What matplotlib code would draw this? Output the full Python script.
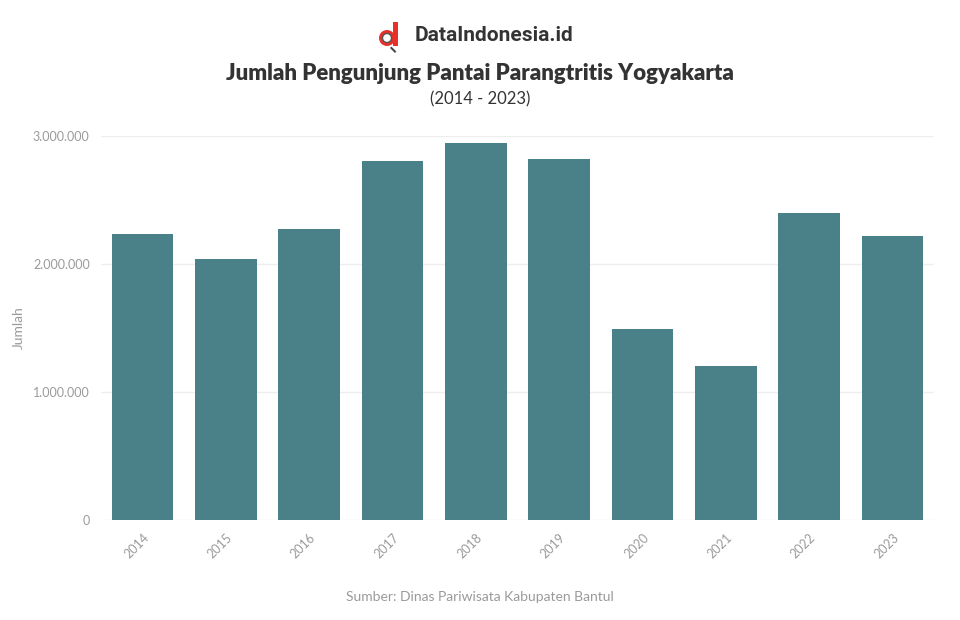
import matplotlib.pyplot as plt
from matplotlib.patches import Circle, Rectangle
from matplotlib.ticker import FuncFormatter

years = ["2014", "2015", "2016", "2017", "2018", "2019", "2020", "2021", "2022", "2023"]
visitors = [2230000, 2040000, 2270000, 2800000, 2940000, 2820000, 1490000, 1200000, 2400000, 2220000]
y_ticks = [0, 1000000, 2000000, 3000000]

BAR_COLOR = "#4a8189"
TEXT_DARK = "#333333"
TEXT_LIGHT = "#9a9a9a"
LOGO_RED = "#e8302a"

plt.rcParams["font.family"] = ["Lato", "DejaVu Sans"]

fig = plt.figure(figsize=(9.6, 6.2), dpi=100)
ax = fig.add_axes([0.105, 0.161, 0.868, 0.62])

x = range(len(years))
ax.bar(x, visitors, width=0.74, color=BAR_COLOR, zorder=3)
ax.set_xlim(-0.5, len(years) - 0.5)
ax.set_ylim(0, 3000000)
ax.set_yticks(y_ticks)
ax.yaxis.set_major_formatter(FuncFormatter(lambda v, _: f"{int(v):,}".replace(",", ".")))
ax.set_xticks(list(x), years, rotation=45, ha="right", rotation_mode="anchor")
ax.tick_params(axis="both", length=0, labelsize=9, colors=TEXT_LIGHT, pad=8)
ax.grid(axis="y", color="#eeeeee", linewidth=1, zorder=0)
for side in ax.spines.values():
    side.set_visible(False)
ax.set_ylabel("Jumlah", color=TEXT_LIGHT, fontsize=10, labelpad=6)
fig.text(0.5, 0.037, "Sumber: Dinas Pariwisata Kabupaten Bantul", color=TEXT_LIGHT, fontsize=10,
         ha="center", va="center")

# header logo: red "d" with a magnifier
fig.patches.append(Circle((387, 582), 8, transform=None, facecolor=LOGO_RED, edgecolor="none"))
fig.patches.append(Circle((387, 582), 4.5, transform=None, facecolor="white", edgecolor="#555555", linewidth=1))
fig.patches.append(Rectangle((393, 574), 5, 24, transform=None, facecolor=LOGO_RED, edgecolor="none"))
fig.patches.append(Rectangle((390, 572), 7, 2, angle=-45, transform=None, facecolor="#444444", edgecolor="none"))
fig.text(0.432, 0.943, "DataIndonesia.id", fontsize=15, fontweight="bold", color=TEXT_DARK, ha="left", va="center",
         family=["Roboto", "DejaVu Sans"])
fig.text(0.5, 0.881, "Jumlah Pengunjung Pantai Parangtritis Yogyakarta", fontsize=16, fontweight="heavy",
         color=TEXT_DARK, ha="center", va="center")
fig.text(0.5, 0.840, "(2014 - 2023)", fontsize=12, color=TEXT_DARK, ha="center", va="center")

fig.savefig("out.png", dpi=100, facecolor="white")
